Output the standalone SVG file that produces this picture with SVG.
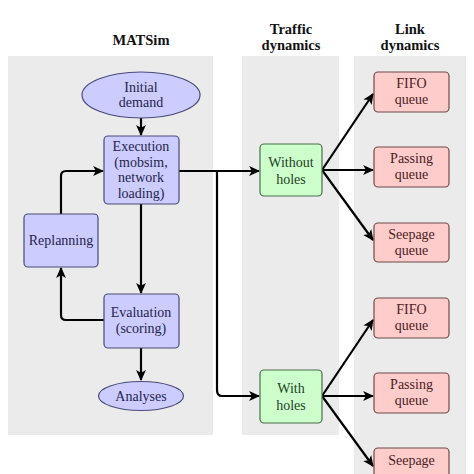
<svg xmlns="http://www.w3.org/2000/svg" width="474" height="474" viewBox="0 0 474 474">
<defs>
<marker id="arr" viewBox="0 0 10 10" refX="9" refY="5" markerWidth="5" markerHeight="5" markerUnits="strokeWidth" orient="auto">
<path d="M0,0.5 L10,5 L0,9.5 L2.5,5 Z" fill="#000"/>
</marker>
<style>
.panel{fill:#ebebeb}
.title{font-family:"Liberation Serif","DejaVu Serif",serif;font-size:14.5px;font-weight:bold;text-anchor:middle;fill:#111}
.lbl{font-family:"Liberation Serif","DejaVu Serif",serif;font-size:14px;text-anchor:middle}
.blue{fill:#ccccff;stroke:#4a4a78;stroke-width:1.2}
.blue-t{fill:#25254a}
.green{fill:#ccffcc;stroke:#4a6e4a;stroke-width:1.2}
.green-t{fill:#1f3f1f}
.red{fill:#ffcccc;stroke:#6e4a4a;stroke-width:1.2}
.red-t{fill:#4a2222}
.conn{fill:none;stroke:#000;stroke-width:2.2;marker-end:url(#arr)}
</style>
</defs>
<rect width="474" height="474" fill="#fff"/>
<g id="panels">
<rect class="panel" x="8" y="56" width="205" height="379"/>
<rect class="panel" x="242" y="56" width="97" height="379"/>
<rect class="panel" x="354" y="56" width="112" height="430"/>
</g>
<g id="titles">
<text class="title" x="141" y="45">MATSim</text>
<text class="title" x="291" y="34">Traffic</text>
<text class="title" x="291" y="50">dynamics</text>
<text class="title" x="410" y="34">Link</text>
<text class="title" x="410" y="50">dynamics</text>
</g>
<g id="connectors">
<path class="conn" d="M141,118 V135"/>
<path class="conn" d="M141,204 V293"/>
<path class="conn" d="M141,348 V380"/>
<path class="conn" d="M104,320 H66 Q61,320 61,315 V268"/>
<path class="conn" d="M61,214 V176 Q61,171 66,171 H103"/>
<path class="conn" d="M179,171 H259"/>
<path class="conn" d="M217,171 V390 Q217,396 222,396 H259"/>
<path class="conn" d="M322,170 L373,94"/>
<path class="conn" d="M322,170 L373,170"/>
<path class="conn" d="M322,170 L373,240"/>
<path class="conn" d="M322,396 L373,320"/>
<path class="conn" d="M322,396 L373,396"/>
<path class="conn" d="M322,396 L373,466"/>
</g>
<g id="initial-demand">
<ellipse class="blue" cx="141" cy="95" rx="59" ry="23"/>
<text class="lbl blue-t" x="141" y="92">Initial</text>
<text class="lbl blue-t" x="141" y="107">demand</text>
</g>
<g id="execution">
<rect class="blue" x="104" y="136" width="75" height="68" rx="4"/>
<text class="lbl blue-t" x="141" y="151">Execution</text>
<text class="lbl blue-t" x="141" y="166.5">(mobsim,</text>
<text class="lbl blue-t" x="141" y="182">network</text>
<text class="lbl blue-t" x="141" y="197.5">loading)</text>
</g>
<g id="replanning">
<rect class="blue" x="24" y="214" width="74" height="53" rx="4"/>
<text class="lbl blue-t" x="61" y="245">Replanning</text>
</g>
<g id="evaluation">
<rect class="blue" x="104" y="294" width="75" height="54" rx="4"/>
<text class="lbl blue-t" x="141" y="317">Evaluation</text>
<text class="lbl blue-t" x="141" y="333">(scoring)</text>
</g>
<g id="analyses">
<ellipse class="blue" cx="141" cy="396" rx="42.5" ry="14.5"/>
<text class="lbl blue-t" x="141" y="401">Analyses</text>
</g>
<g id="without-holes">
<rect class="green" x="260" y="144" width="62" height="52" rx="4"/>
<text class="lbl green-t" x="291" y="167">Without</text>
<text class="lbl green-t" x="291" y="184">holes</text>
</g>
<g id="with-holes">
<rect class="green" x="260" y="370" width="62" height="53" rx="4"/>
<text class="lbl green-t" x="291" y="393">With</text>
<text class="lbl green-t" x="291" y="410">holes</text>
</g>
<g id="fifo-1">
<rect class="red" x="374" y="72" width="75" height="40" rx="4"/>
<text class="lbl red-t" x="411.5" y="88">FIFO</text>
<text class="lbl red-t" x="411.5" y="104">queue</text>
</g>
<g id="passing-1">
<rect class="red" x="374" y="147" width="75" height="40" rx="4"/>
<text class="lbl red-t" x="411.5" y="163">Passing</text>
<text class="lbl red-t" x="411.5" y="179">queue</text>
</g>
<g id="seepage-1">
<rect class="red" x="374" y="223" width="75" height="39" rx="4"/>
<text class="lbl red-t" x="411.5" y="239">Seepage</text>
<text class="lbl red-t" x="411.5" y="255">queue</text>
</g>
<g id="fifo-2">
<rect class="red" x="374" y="298" width="75" height="40" rx="4"/>
<text class="lbl red-t" x="411.5" y="314">FIFO</text>
<text class="lbl red-t" x="411.5" y="330">queue</text>
</g>
<g id="passing-2">
<rect class="red" x="374" y="373" width="75" height="40" rx="4"/>
<text class="lbl red-t" x="411.5" y="389">Passing</text>
<text class="lbl red-t" x="411.5" y="405">queue</text>
</g>
<g id="seepage-2">
<rect class="red" x="374" y="448" width="75" height="40" rx="4"/>
<text class="lbl red-t" x="411.5" y="465">Seepage</text>
</g>
</svg>
